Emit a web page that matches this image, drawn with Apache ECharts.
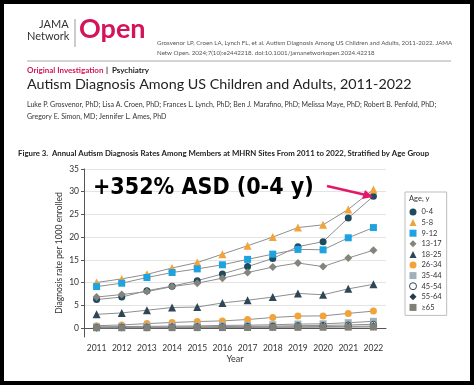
<!DOCTYPE html>
<html><head><meta charset="utf-8">
<script src="https://cdn.jsdelivr.net/npm/echarts@6/dist/echarts.min.js"></script>
<style>html,body{margin:0;padding:0;background:#fff}#c{width:474px;height:385px}</style>
</head><body><div id="c"></div>
<script>
const years = ['2011','2012','2013','2014','2015','2016','2017','2018','2019','2020','2021','2022'];
const yTicks = [0,5,10,15,20,25,30,35];
const age0_4   = [6.25,6.8,8.2,9.2,10.4,11.9,13.5,15.3,17.9,19.0,24.2,29.0];
const age5_8   = [10.0,10.8,11.8,13.2,14.4,16.25,18.1,20.0,22.1,22.7,26.1,30.5];
const age9_12  = [9.1,9.85,11.1,12.2,13.0,13.9,15.1,16.25,17.3,17.2,19.85,22.1];
const age13_17 = [6.8,7.35,8.0,9.1,9.85,10.95,12.2,13.4,14.3,13.5,15.4,17.1];
const age18_25 = [3.0,3.3,3.9,4.5,4.6,5.5,6.1,6.8,7.6,7.3,8.6,9.6];
const age26_34 = [0.5,0.65,0.95,1.2,1.4,1.55,1.85,2.3,2.6,2.65,3.2,3.7];
const age35_44 = [0.25,0.3,0.35,0.4,0.45,0.55,0.6,0.7,0.85,0.9,1.15,1.45];
const age45_54 = [0.12,0.15,0.18,0.2,0.25,0.3,0.35,0.4,0.5,0.55,0.65,0.8];
const age55_64 = [0.06,0.08,0.1,0.12,0.14,0.16,0.2,0.22,0.26,0.3,0.35,0.4];
const age65    = [0.03,0.04,0.05,0.06,0.07,0.08,0.1,0.12,0.13,0.15,0.18,0.2];
const groups = [
  {name:'0-4', data:age0_4, symbol:'circle', color:'#1f4b5e', size:7},
  {name:'5-8', data:age5_8, symbol:'triangle', color:'#f2a33a', size:8},
  {name:'9-12', data:age9_12, symbol:'rect', color:'#1da3e0', size:7},
  {name:'13-17', data:age13_17, symbol:'diamond', color:'#84847c', size:8},
  {name:'18-25', data:age18_25, symbol:'triangle', color:'#2e4655', size:8},
  {name:'26-34', data:age26_34, symbol:'circle', color:'#f2a33a', size:7},
  {name:'35-44', data:age35_44, symbol:'rect', color:'#9fb0ba', size:7},
  {name:'45-54', data:age45_54, symbol:'circle', color:'#ffffff', border:'#2e4655', size:6},
  {name:'55-64', data:age55_64, symbol:'diamond', color:'#263a46', size:8},
  {name:'≥65', data:age65, symbol:'rect', color:'#7f7f7a', size:7}
];
const FONT = 'Lato';
const chart = echarts.init(document.getElementById('c'), null, {renderer:'canvas'});
const series = groups.map(g => ({
  name: g.name, type: 'line', data: g.data, symbol: g.symbol, symbolSize: g.size,
  lineStyle: {color: '#8e8e8e', width: 1},
  itemStyle: {color: g.color, borderColor: g.border || g.color, borderWidth: g.border ? 1 : 0},
  emphasis: {disabled: true}, animation: false
}));
chart.setOption({
  animation: false,
  grid: {left: 84, right: 88, top: 169, bottom: 48},
  xAxis: {
    type: 'category', data: years, boundaryGap: true,
    name: 'Year', nameLocation: 'middle', nameGap: 18, nameMoveOverlap: false,
    nameTextStyle: {fontFamily: FONT, fontSize: 9, color: '#333'},
    axisLine: {lineStyle: {color: '#555'}},
    axisTick: {show: false},
    axisLabel: {fontFamily: FONT, fontSize: 8.5, color: '#333', margin: 7, interval: 0}
  },
  yAxis: {
    type: 'value', min: -2, max: 35,
    name: 'Diagnosis rate per 1000 enrolled', nameLocation: 'middle', nameGap: 20, nameMoveOverlap: false,
    nameTextStyle: {fontFamily: FONT, fontSize: 8.5, color: '#333'},
    axisLine: {show: true, lineStyle: {color: '#555'}},
    axisTick: {show: true, length: 3, customValues: yTicks, lineStyle: {color: '#555'}},
    axisLabel: {fontFamily: FONT, fontSize: 8.5, color: '#333', margin: 5, customValues: yTicks},
    splitLine: {show: true, lineStyle: {color: '#e4e4e4'}}
  },
  legend: {
    orient: 'vertical', left: 405, top: 192, padding: [16, 5, 4, 4],
    borderColor: '#bdbdbd', borderWidth: 1,
    itemWidth: 7, itemHeight: 7, itemGap: 2.6,
    textStyle: {fontFamily: FONT, fontSize: 7.5, color: '#333'},
    data: groups.map(g => g.border
      ? {name: g.name, icon: 'circle', itemStyle: {color: '#ffffff', borderColor: g.border, borderWidth: 1}}
      : {name: g.name, icon: g.symbol})
  },
  series: series,
  graphic: [
    {type:'rect', shape:{x:2,y:2,width:470,height:381}, style:{fill:'none', stroke:'#000', lineWidth:4}, z:100},
    {type:'text', left:409, top:195, style:{text:'Age, y', font:'7.5px Lato', fill:'#333'}},
    {type:'text', left:39, top:19, style:{text:'JAMA', font:'11px Lato', fill:'#333'}},
    {type:'text', left:27, top:31, style:{text:'Network', font:'11px Lato', fill:'#333'}},
    {type:'line', shape:{x1:75,y1:19,x2:75,y2:47}, style:{stroke:'#999', lineWidth:1}},
    {type:'text', left:79, top:16, style:{text:'Open', font:'bold 27px Lato', fill:'#d4145a'}},
    {type:'text', left:157, top:40, style:{text:'Grosvenor LP, Croen LA, Lynch FL, et al. Autism Diagnosis Among US Children and Adults, 2011-2022. JAMA', font:'6.2px Lato', fill:'#555'}},
    {type:'text', left:157, top:50, style:{text:'Netw Open. 2024;7(10):e2442218. doi:10.1001/jamanetworkopen.2024.42218', font:'6.2px Lato', fill:'#555'}},
    {type:'line', shape:{x1:27,y1:61,x2:451,y2:61}, style:{stroke:'#aaa', lineWidth:1}},
    {type:'text', left:27, top:66, style:{text:'Original Investigation', font:'bold 8px Lato', fill:'#d4145a'}},
    {type:'text', left:106, top:66, style:{text:'|  Psychiatry', font:'bold 8px Lato', fill:'#222'}},
    {type:'text', left:27, top:77, style:{text:'Autism Diagnosis Among US Children and Adults, 2011-2022', font:'14.3px Lato', fill:'#222'}},
    {type:'text', left:27, top:101, style:{text:'Luke P. Grosvenor, PhD; Lisa A. Croen, PhD; Frances L. Lynch, PhD; Ben J. Marafino, PhD; Melissa Maye, PhD; Robert B. Penfold, PhD;', font:'7px Lato', fill:'#333'}},
    {type:'text', left:27, top:113, style:{text:'Gregory E. Simon, MD; Jennifer L. Ames, PhD', font:'7px Lato', fill:'#333'}},
    {type:'text', left:18, top:149, style:{text:'Figure 3.  Annual Autism Diagnosis Rates Among Members at MHRN Sites From 2011 to 2022, Stratified by Age Group', font:'bold 7.8px Lato', fill:'#222'}},
    {type:'text', left:93, top:177, style:{text:'+352% ASD (0-4 y)', font:'bold 23px "DejaVu Sans Condensed", "DejaVu Sans"', fill:'#000'}, z:50},
    {type:'line', shape:{x1:327,y1:186,x2:366,y2:195}, style:{stroke:'#e2196b', lineWidth:2.5}, z:50},
    {type:'polygon', shape:{points:[[373,197],[362,199],[365,190]]}, style:{fill:'#e2196b'}, z:50}
  ]
});
</script></body></html>
